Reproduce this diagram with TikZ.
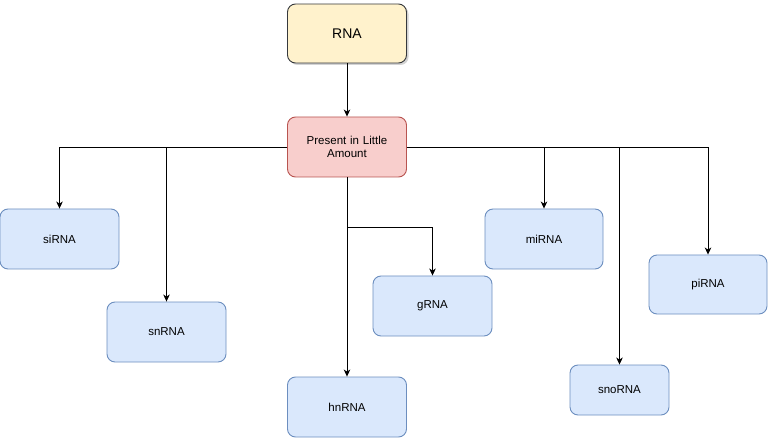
\documentclass[tikz,border=0pt]{standalone}
\usepackage{fontspec}
\setmainfont{Liberation Sans}
\usetikzlibrary{arrows.meta,positioning,shadows}
\definecolor{rnayellow}{HTML}{FFF2CC}
\definecolor{rnaedge}{HTML}{36393D}
\definecolor{lowred}{HTML}{F8CECC}
\definecolor{lowedge}{HTML}{B85450}
\definecolor{kindblue}{HTML}{DAE8FC}
\definecolor{kindedge}{HTML}{6C8EBF}

\begin{document}
\begin{tikzpicture}[x=1pt,y=-1pt,>={Stealth[length=7pt,width=6.5pt,inset=2pt]},
    font=\fontsize{11.5}{13}\selectfont,
    box/.style={draw,rounded corners=8pt,line width=0.9pt,minimum width=119pt,minimum height=60pt,align=center,inner sep=2pt},
    kind/.style={box,fill=kindblue,draw=kindedge},
    link/.style={->,line width=0.8pt}]
        \useasboundingbox (0,0) rectangle (768,438);
        \node[box,fill=rnayellow,draw=rnaedge,minimum height=59pt,font=\fontsize{14}{16}\selectfont,
              drop shadow={shadow xshift=2pt,shadow yshift=-2pt,opacity=0.35}] (rna) at (347,33.5) {RNA};
        \node[box,fill=lowred,draw=lowedge,text width=100pt] (little) at (347,147) {Present in Little\\Amount};
        \node[kind] (si) at (59.5,239) {siRNA};
        \node[kind] (sn) at (166.5,332) {snRNA};
        \node[kind] (hn) at (347,407) {hnRNA};
        \node[kind] (g) at (432.5,306) {gRNA};
        \node[kind,minimum width=118pt] (mi) at (544,239) {miRNA};
        \node[kind,minimum width=118pt,minimum height=59pt] (pi) at (708,284.5) {piRNA};
        \node[kind,minimum width=99pt,minimum height=50pt] (sno) at (619.5,390) {snoRNA};
        \coordinate (split) at (347,227);
        \draw[link] (rna) -- (little);
        \draw[link] (little.west) -| (si.north);
        \draw[link] (little.west) -| (sn.north);
        \draw[link] (little.south) -- (hn.north);
        \draw[link] (split) -| (g.north);
        \draw[link] (little.east) -| (mi.north);
        \draw[link] (little.east) -| (sno.north);
        \draw[link] (little.east) -| (pi.north);
      \end{tikzpicture}
\end{document}
